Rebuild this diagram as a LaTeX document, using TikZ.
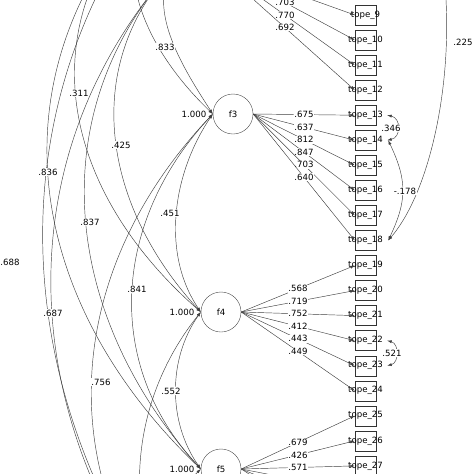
\documentclass[tikz,border=0pt]{standalone}
\usepackage{fontspec}
\setmainfont{DejaVu Sans}
\usetikzlibrary{arrows.meta,positioning}

\begin{document}
\begin{tikzpicture}[x=1pt,y=-1pt,
	every node/.style={font=\fontsize{8.6}{10}\selectfont},
	fac/.style={draw=black!70,circle,minimum size=40pt,inner sep=0pt},
	item/.style={draw=black!80,minimum width=21pt,minimum height=20pt,inner sep=0pt},
	lab/.style={fill=white,inner sep=0.6pt},
	load/.style={draw=black!75,line width=0.45pt,-{Latex[length=4.5pt,width=3pt]}},
	cov/.style={draw=black!75,line width=0.45pt,{Latex[length=4.5pt,width=3pt]}-{Latex[length=4.5pt,width=3pt]}}]
		\useasboundingbox (0,0) rectangle (474,474);
		\clip (0,0) rectangle (474,474);
		% factors (f1, f2, f6 lie outside the view)
		\coordinate (f1) at (175,-125);
		\coordinate (f2w) at (175,-35);
		\coordinate (f2e) at (215,-35);
		\coordinate (f6) at (201,650);
		\node[fac] (f3) at (233,114) {f3};
		\node[fac] (f4) at (221,312) {f4};
		\node[fac] (f5) at (221,469) {f5};
		\node[left=3pt of f3] (v3) {1.000};
		\node[left=3pt of f4] (v4) {1.000};
		\node[left=3pt of f5] (v5) {1.000};
		% items
		\foreach \n in {9,...,27}
			\node[item,label=center:tope\_\n] (t\n) at (365.5,{15+(\n-9)*25.05}) {};
		\coordinate (t2e) at (387,-160);
		\coordinate (c28) at (355,491);
		\coordinate (c29) at (355,516);
		\coordinate (c30) at (355,541);
		% loadings
		\draw[load] (f2e) -- (t9.west);
		\foreach \n/\v in {10/.703,11/.770,12/.692}
			\draw[load] (f2e) -- node[lab] (l\n) {\v} (t\n.west);
		\foreach \n/\v in {13/.675,14/.637,15/.812,16/.847,17/.703,18/.640}
			\draw[load] (f3.east) -- node[lab] (l\n) {\v} (t\n.west);
		\foreach \n/\v in {19/.568,20/.719,21/.752,22/.412,23/.443,24/.449}
			\draw[load] (f4.east) -- node[lab] (l\n) {\v} (t\n.west);
		\foreach \n/\v in {25/.679,26/.426,27/.571}
			\draw[load] (f5.east) -- node[lab] (l\n) {\v} (t\n.west);
		\foreach \n in {28,29,30}
			\draw[load] (f5.east) -- (c\n);
		% covariances between factors
		\draw[cov] (f1) .. controls +(-75,72) and +(-75,-72) .. (f3.west);
		\draw[cov] (f2w) .. controls +(-29,45) and +(-29,-45) .. (f3.west);
		\draw[cov] (f1) .. controls +(-149,131) and +(-149,-131) .. (f4.west);
		\draw[cov] (f1) .. controls +(-186,178) and +(-186,-178) .. (f5.west);
		\draw[cov] (f1) .. controls +(-192,232) and +(-192,-232) .. (f6);
		\draw[cov] (f2w) .. controls +(-96,104) and +(-96,-104) .. (f4.west);
		\draw[cov] (f2w) .. controls +(-136,151) and +(-136,-151) .. (f5.west);
		\draw[cov] (f2w) .. controls +(-181,205) and +(-181,-205) .. (f6);
		\draw[cov] (f3.west) .. controls +(-40,59) and +(-40,-59) .. (f4.west);
		\draw[cov] (f3.west) .. controls +(-99,106) and +(-99,-106) .. (f5.west);
		\draw[cov] (f3.west) .. controls +(-153,161) and +(-153,-161) .. (f6);
		\draw[cov] (f4.west) .. controls +(-33,47) and +(-33,-47) .. (f5.west);
		\draw[cov] (f4.west) .. controls +(-81,101) and +(-81,-101) .. (f6);
		\draw[cov] (f5.west) .. controls +(-55,54) and +(-55,-54) .. (f6);
		\node[lab] (c23) at (165,47) {.833};
		\node[lab] (c14) at (79,93) {.311};
		\node[lab] (c24) at (121,145) {.425};
		\node[lab] (c15) at (48,172) {.836};
		\node[lab] (c25) at (90,222) {.837};
		\node[lab] (c34) at (170,213) {.451};
		\node[lab] (c16) at (10,262) {.688};
		\node[lab] (c35) at (137,289) {.841};
		\node[lab] (c26) at (53,313) {.687};
		\node[lab] (c36) at (101,382) {.756};
		\node[lab] (c45) at (171,391) {.552};
		% covariances between items
		\draw[cov] ([xshift=11pt]t13.east) .. controls +(14,3) and +(14,-3) .. ([xshift=11pt]t14.east);
		\draw[cov] ([xshift=12pt]t14.east) .. controls +(19,40) and +(19,-40) .. ([xshift=12pt]t18.east);
		\draw[cov] (t2e) .. controls +(88,80) and +(67,-78) .. ([xshift=12pt]t18.east);
		\draw[cov] ([xshift=11pt]t22.east) .. controls +(12,3) and +(12,-3) .. ([xshift=11pt]t23.east);
		\node[lab] (e1314) at (391,128) {.346};
		\node[lab] (e1418) at (405,191) {-.178};
		\node[lab] (e0218) at (463,42) {.225};
		\node[lab] (e2223) at (392,353) {.521};
\end{tikzpicture}
\end{document}
